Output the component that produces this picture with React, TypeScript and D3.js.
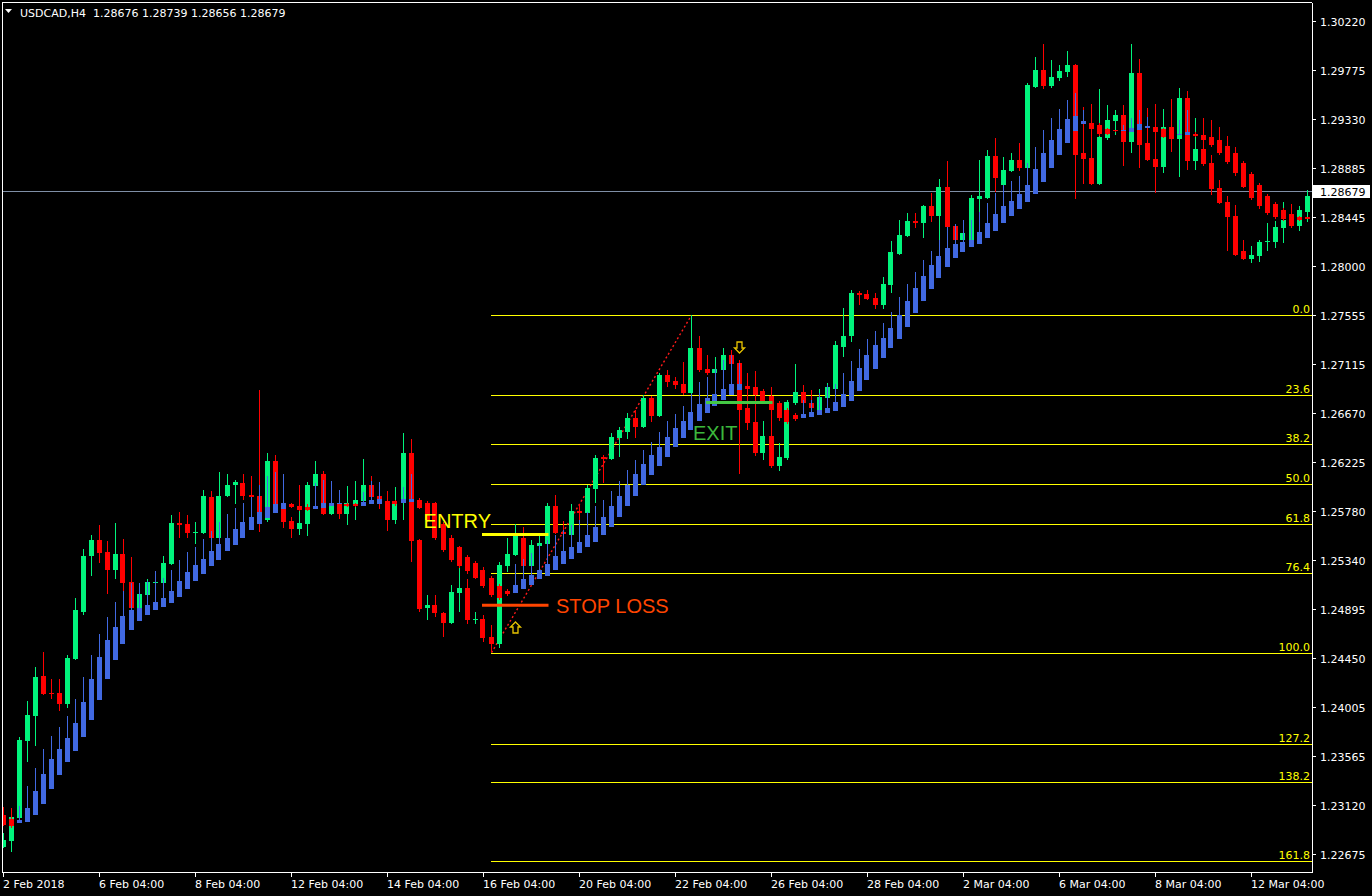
import React from 'react';
import * as d3 from 'd3';

// ---------- DATA ----------
const headerText = 'USDCAD,H4  1.28676 1.28739 1.28656 1.28679';
const currentPrice = 1.28679;

const open = [1.2274,1.2279,1.2300,1.2370,1.2392,1.2429,1.2413,1.2413,1.2403,1.2444,
 1.2487,1.2537,1.2552,1.2541,1.2525,1.2539,1.2514,1.2490,1.2502,1.2513,
 1.2513,1.2530,1.2567,1.2566,1.2558,1.2558,1.2591,1.2554,1.2592,1.2602,
 1.2603,1.2593,1.2592,1.2570,1.2623,1.2585,1.2569,1.2562,1.2566,1.2601,
 1.2612,1.2575,1.2584,1.2575,1.2583,1.2587,1.2602,1.2592,1.2585,1.2570,
 1.2588,1.2631,1.2552,1.2490,1.2493,1.2486,1.2477,1.2504,1.2508,1.2479,
 1.2480,1.2464,1.2458,1.2528,1.2538,1.2554,1.2528,1.2546,1.2548,1.2583,
 1.2559,1.2556,1.2578,1.2576,1.2598,1.2627,1.2625,1.2644,1.2650,1.2662,
 1.2654,1.2680,1.2664,1.2701,1.2696,1.2693,1.2685,1.2726,1.2707,1.2703,
 1.2706,1.2719,1.2712,1.2671,1.2659,1.2631,1.2646,1.2619,1.2626,1.2676,
 1.2686,1.2676,1.2670,1.2680,1.2689,1.2727,1.2737,1.2776,1.2775,1.2771,
 1.2765,1.2783,1.2811,1.2827,1.2841,1.2839,1.2854,1.2845,1.2872,1.2836,
 1.2824,1.2824,1.2861,1.2862,1.2900,1.2873,1.2886,1.2896,1.2889,1.2962,
 1.2978,1.2963,1.2970,1.2976,1.2982,1.2902,1.2898,1.2874,1.2916,1.2931,
 1.2937,1.2912,1.2975,1.2911,1.2897,1.2890,1.2926,1.2915,1.2952,1.2895,
 1.2906,1.2893,1.2871,1.2858,1.2845,1.2814,1.2806,1.2809,1.2822,1.2822,
 1.2834,1.2844,1.2836,1.2849];

const high = [1.2286,1.2305,1.2373,1.2406,1.2437,1.2450,1.2426,1.2426,1.2448,1.2499,
 1.2544,1.2556,1.2565,1.2551,1.2567,1.2553,1.2536,1.2507,1.2516,1.2524,
 1.2537,1.2574,1.2577,1.2574,1.2568,1.2597,1.2596,1.2613,1.2612,1.2606,
 1.2612,1.2610,1.2688,1.2631,1.2629,1.2588,1.2573,1.2579,1.2604,1.2623,
 1.2614,1.2587,1.2596,1.2601,1.2605,1.2625,1.2610,1.2593,1.2596,1.2600,
 1.2649,1.2643,1.2553,1.2502,1.2502,1.2487,1.2511,1.2527,1.2516,1.2487,
 1.2484,1.2475,1.2532,1.2554,1.2566,1.2564,1.2552,1.2555,1.2585,1.2593,
 1.2569,1.2584,1.2584,1.2602,1.2629,1.2629,1.2649,1.2654,1.2667,1.2670,
 1.2683,1.2682,1.2703,1.2706,1.2699,1.2713,1.2756,1.2737,1.2719,1.2718,
 1.2726,1.2724,1.2715,1.2703,1.2705,1.2660,1.2690,1.2640,1.2679,1.2711,
 1.2692,1.2688,1.2689,1.2694,1.2732,1.2762,1.2778,1.2777,1.2778,1.2776,
 1.2790,1.2823,1.2842,1.2848,1.2848,1.2855,1.2866,1.2879,1.2895,1.2838,
 1.2841,1.2864,1.2896,1.2905,1.2916,1.2899,1.2902,1.2911,1.2966,1.2989,
 1.3001,1.2987,1.2982,1.2995,1.2983,1.2944,1.2947,1.2960,1.2946,1.2941,
 1.2946,1.3001,1.2988,1.2943,1.2947,1.2942,1.2951,1.2961,1.2959,1.2934,
 1.2934,1.2901,1.2878,1.2863,1.2855,1.2824,1.2818,1.2824,1.2839,1.2841,
 1.2858,1.2856,1.2854,1.2869];

const low = [1.2273,1.2269,1.2298,1.2351,1.2365,1.2411,1.2408,1.2397,1.2400,1.2443,
 1.2484,1.2519,1.2531,1.2503,1.2516,1.2505,1.2489,1.2489,1.2501,1.2507,
 1.2512,1.2529,1.2554,1.2554,1.2548,1.2557,1.2553,1.2553,1.2591,1.2584,
 1.2588,1.2590,1.2559,1.2568,1.2583,1.2563,1.2554,1.2556,1.2555,1.2600,
 1.2574,1.2574,1.2571,1.2565,1.2570,1.2586,1.2590,1.2580,1.2560,1.2566,
 1.2570,1.2532,1.2487,1.2479,1.2482,1.2464,1.2476,1.2487,1.2476,1.2476,
 1.2459,1.2450,1.2454,1.2523,1.2537,1.2527,1.2527,1.2545,1.2547,1.2557,
 1.2556,1.2555,1.2568,1.2575,1.2585,1.2603,1.2624,1.2627,1.2643,1.2644,
 1.2653,1.2659,1.2663,1.2690,1.2689,1.2683,1.2684,1.2704,1.2701,1.2701,
 1.2705,1.2709,1.2612,1.2651,1.2628,1.2624,1.2617,1.2614,1.2624,1.2674,
 1.2665,1.2668,1.2669,1.2679,1.2688,1.2718,1.2731,1.2765,1.2769,1.2761,
 1.2761,1.2776,1.2810,1.2826,1.2834,1.2825,1.2840,1.2824,1.2834,1.2823,
 1.2822,1.2823,1.2846,1.2861,1.2867,1.2872,1.2885,1.2886,1.2888,1.2961,
 1.2960,1.2961,1.2968,1.2971,1.2861,1.2874,1.2873,1.2873,1.2914,1.2919,
 1.2891,1.2902,1.2889,1.2895,1.2866,1.2884,1.2903,1.2881,1.2887,1.2887,
 1.2891,1.2864,1.2856,1.2814,1.2809,1.2805,1.2803,1.2804,1.2814,1.2816,
 1.2821,1.2834,1.2832,1.2840];

const close = [1.2280,1.2301,1.2371,1.2393,1.2428,1.2412,1.2412,1.2403,1.2445,1.2488,
 1.2537,1.2552,1.2540,1.2525,1.2539,1.2513,1.2490,1.2503,1.2514,1.2514,
 1.2531,1.2567,1.2565,1.2558,1.2559,1.2592,1.2554,1.2592,1.2602,1.2604,
 1.2592,1.2591,1.2567,1.2623,1.2584,1.2568,1.2562,1.2567,1.2602,1.2612,
 1.2575,1.2585,1.2575,1.2585,1.2588,1.2602,1.2591,1.2584,1.2570,1.2584,
 1.2631,1.2551,1.2489,1.2493,1.2486,1.2477,1.2505,1.2508,1.2479,1.2480,
 1.2463,1.2458,1.2529,1.2539,1.2555,1.2528,1.2547,1.2549,1.2583,1.2558,
 1.2557,1.2578,1.2576,1.2599,1.2626,1.2625,1.2645,1.2651,1.2662,1.2654,
 1.2680,1.2664,1.2701,1.2695,1.2692,1.2685,1.2726,1.2706,1.2703,1.2707,
 1.2719,1.2711,1.2670,1.2658,1.2631,1.2646,1.2619,1.2627,1.2677,1.2686,
 1.2676,1.2671,1.2681,1.2690,1.2728,1.2737,1.2776,1.2774,1.2770,1.2765,
 1.2784,1.2813,1.2828,1.2841,1.2839,1.2854,1.2845,1.2872,1.2835,1.2824,
 1.2830,1.2862,1.2863,1.2900,1.2880,1.2887,1.2896,1.2889,1.2964,1.2978,
 1.2963,1.2971,1.2977,1.2982,1.2901,1.2897,1.2874,1.2917,1.2932,1.2937,
 1.2912,1.2975,1.2910,1.2896,1.2890,1.2926,1.2915,1.2952,1.2895,1.2906,
 1.2892,1.2870,1.2857,1.2844,1.2810,1.2806,1.2810,1.2822,1.2823,1.2835,
 1.2842,1.2836,1.2851,1.2863];

// smoothed Heiken Ashi overlay
const haOpen = [1.2303,1.2299,1.2295,1.2296,1.2303,1.2313,1.2326,1.2339,1.2351,1.2361,
 1.2373,1.2389,1.2407,1.2426,1.2443,1.2458,1.2470,1.2478,1.2484,1.2488,
 1.2491,1.2495,1.2500,1.2507,1.2515,1.2521,1.2528,1.2534,1.2542,1.2547,
 1.2554,1.2561,1.2566,1.2572,1.2576,1.2580,1.2584,1.2583,1.2582,1.2580,
 1.2581,1.2583,1.2584,1.2584,1.2584,1.2583,1.2584,1.2584,1.2587,1.2587,
 1.2585,1.2586,1.2588,1.2585,1.2585,1.2566,1.2554,1.2545,1.2536,1.2531,
 1.2525,1.2517,1.2510,1.2506,1.2504,1.2507,1.2511,1.2516,1.2519,1.2525,
 1.2530,1.2535,1.2540,1.2545,1.2550,1.2556,1.2564,1.2573,1.2583,1.2592,
 1.2602,1.2611,1.2619,1.2627,1.2636,1.2644,1.2651,1.2660,1.2667,1.2673,
 1.2679,1.2683,1.2688,1.2691,1.2690,1.2687,1.2682,1.2676,1.2670,1.2665,
 1.2662,1.2663,1.2665,1.2667,1.2669,1.2672,1.2678,1.2687,1.2697,1.2707,
 1.2717,1.2726,1.2734,1.2745,1.2757,1.2768,1.2779,1.2789,1.2799,1.2807,
 1.2813,1.2817,1.2820,1.2825,1.2832,1.2839,1.2845,1.2852,1.2858,1.2865,
 1.2876,1.2889,1.2901,1.2911,1.2922,1.2929,1.2930,1.2928,1.2924,1.2923,
 1.2922,1.2921,1.2923,1.2925,1.2926,1.2924,1.2922,1.2919,1.2919,1.2920,
 1.2919,1.2917,1.2914,1.2909,1.2902,1.2893,1.2883,1.2873,1.2863,1.2856,
 1.2851,1.2847,1.2844,1.2844];

const haClose = [1.2294,1.2293,1.2298,1.2309,1.2324,1.2340,1.2353,1.2362,1.2372,1.2386,
 1.2405,1.2426,1.2446,1.2461,1.2473,1.2483,1.2488,1.2490,1.2493,1.2496,
 1.2499,1.2506,1.2515,1.2523,1.2529,1.2535,1.2542,1.2548,1.2554,1.2562,
 1.2568,1.2573,1.2577,1.2582,1.2584,1.2585,1.2582,1.2579,1.2579,1.2583,
 1.2585,1.2585,1.2585,1.2583,1.2583,1.2586,1.2588,1.2589,1.2585,1.2584,
 1.2589,1.2589,1.2581,1.2570,1.2554,1.2543,1.2534,1.2528,1.2524,1.2517,
 1.2510,1.2502,1.2499,1.2503,1.2511,1.2516,1.2520,1.2525,1.2530,1.2537,
 1.2542,1.2545,1.2550,1.2556,1.2564,1.2573,1.2583,1.2592,1.2602,1.2612,
 1.2621,1.2629,1.2636,1.2645,1.2653,1.2660,1.2668,1.2675,1.2680,1.2684,
 1.2689,1.2693,1.2693,1.2689,1.2683,1.2677,1.2670,1.2662,1.2659,1.2661,
 1.2666,1.2668,1.2670,1.2671,1.2677,1.2684,1.2696,1.2708,1.2719,1.2728,
 1.2735,1.2744,1.2756,1.2768,1.2780,1.2791,1.2801,1.2809,1.2816,1.2820,
 1.2822,1.2824,1.2831,1.2839,1.2847,1.2854,1.2859,1.2865,1.2873,1.2888,
 1.2902,1.2914,1.2924,1.2933,1.2936,1.2931,1.2924,1.2920,1.2920,1.2922,
 1.2923,1.2925,1.2929,1.2927,1.2921,1.2917,1.2916,1.2920,1.2921,1.2918,
 1.2914,1.2910,1.2902,1.2894,1.2884,1.2872,1.2862,1.2854,1.2848,1.2844,
 1.2843,1.2842,1.2842,1.2843];

const haHigh = [1.2310,1.2309,1.2311,1.2329,1.2345,1.2362,1.2374,1.2382,1.2392,1.2408,
 1.2428,1.2448,1.2467,1.2482,1.2496,1.2506,1.2513,1.2513,1.2515,1.2524,
 1.2517,1.2525,1.2534,1.2541,1.2545,1.2553,1.2560,1.2568,1.2575,1.2581,
 1.2585,1.2591,1.2602,1.2610,1.2613,1.2612,1.2585,1.2602,1.2584,1.2603,
 1.2606,1.2605,1.2597,1.2585,1.2585,1.2595,1.2605,1.2604,1.2588,1.2588,
 1.2600,1.2612,1.2590,1.2587,1.2586,1.2568,1.2556,1.2546,1.2538,1.2533,
 1.2527,1.2519,1.2512,1.2507,1.2530,1.2535,1.2540,1.2547,1.2552,1.2556,
 1.2561,1.2565,1.2570,1.2577,1.2583,1.2588,1.2596,1.2605,1.2615,1.2624,
 1.2633,1.2641,1.2650,1.2660,1.2666,1.2673,1.2684,1.2695,1.2699,1.2707,
 1.2715,1.2719,1.2712,1.2693,1.2692,1.2689,1.2684,1.2678,1.2671,1.2667,
 1.2679,1.2679,1.2685,1.2692,1.2693,1.2703,1.2714,1.2725,1.2734,1.2741,
 1.2748,1.2758,1.2772,1.2784,1.2795,1.2805,1.2814,1.2824,1.2835,1.2838,
 1.2842,1.2842,1.2849,1.2857,1.2866,1.2873,1.2877,1.2882,1.2893,1.2908,
 1.2923,1.2934,1.2942,1.2950,1.2957,1.2941,1.2932,1.2930,1.2925,1.2923,
 1.2928,1.2934,1.2941,1.2935,1.2927,1.2925,1.2923,1.2932,1.2941,1.2921,
 1.2920,1.2932,1.2926,1.2918,1.2908,1.2895,1.2885,1.2875,1.2865,1.2858,
 1.2853,1.2848,1.2845,1.2844];

const haLow = [1.2293,1.2291,1.2295,1.2296,1.2303,1.2313,1.2326,1.2339,1.2351,1.2361,
 1.2373,1.2389,1.2407,1.2426,1.2443,1.2458,1.2470,1.2478,1.2484,1.2488,
 1.2491,1.2495,1.2500,1.2507,1.2515,1.2521,1.2528,1.2534,1.2542,1.2547,
 1.2554,1.2561,1.2566,1.2572,1.2576,1.2580,1.2581,1.2578,1.2578,1.2580,
 1.2581,1.2583,1.2584,1.2582,1.2582,1.2583,1.2584,1.2584,1.2584,1.2583,
 1.2585,1.2586,1.2580,1.2568,1.2552,1.2541,1.2532,1.2526,1.2521,1.2516,
 1.2508,1.2500,1.2497,1.2501,1.2504,1.2507,1.2511,1.2516,1.2519,1.2525,
 1.2530,1.2535,1.2540,1.2545,1.2550,1.2556,1.2564,1.2573,1.2583,1.2592,
 1.2602,1.2611,1.2619,1.2627,1.2636,1.2644,1.2651,1.2660,1.2667,1.2673,
 1.2679,1.2683,1.2688,1.2687,1.2681,1.2675,1.2668,1.2660,1.2657,1.2660,
 1.2662,1.2663,1.2665,1.2667,1.2669,1.2672,1.2678,1.2687,1.2697,1.2707,
 1.2717,1.2726,1.2734,1.2745,1.2757,1.2768,1.2779,1.2789,1.2799,1.2807,
 1.2813,1.2817,1.2820,1.2825,1.2832,1.2839,1.2845,1.2852,1.2858,1.2865,
 1.2876,1.2889,1.2901,1.2911,1.2922,1.2929,1.2922,1.2918,1.2919,1.2921,
 1.2922,1.2921,1.2923,1.2925,1.2920,1.2916,1.2915,1.2919,1.2919,1.2917,
 1.2913,1.2908,1.2901,1.2892,1.2882,1.2871,1.2860,1.2852,1.2846,1.2843,
 1.2841,1.2841,1.2841,1.2843];

const priceTicks = ['1.30220','1.29775','1.29330','1.28885','1.28445','1.28000','1.27555','1.27115','1.26670',
  '1.26225','1.25780','1.25340','1.24895','1.24450','1.24005','1.23565','1.23120','1.22675'];

const timeLabels = ['2 Feb 2018','6 Feb 04:00','8 Feb 04:00','12 Feb 04:00','14 Feb 04:00','16 Feb 04:00',
  '20 Feb 04:00','22 Feb 04:00','26 Feb 04:00','28 Feb 04:00','2 Mar 04:00','6 Mar 04:00','8 Mar 04:00','12 Mar 04:00'];
const timeLabelBars = [0,12,24,36,48,60,72,84,96,108,120,132,144,156];

const fibLowBar = 61, fibHighBar = 86;
const fibLow = 1.24497, fibHigh = 1.27555;
const fibLevels = [0.0, 23.6, 38.2, 50.0, 61.8, 76.4, 100.0, 127.2, 138.2, 161.8];

const entryLevel = { price: 1.25567, from: 60, to: 68, label: 'ENTRY' };
const stopLevel = { price: 1.24926, from: 60, to: 68, label: 'STOP LOSS' };
const exitLevel = { price: 1.26763, from: 88, to: 96, label: 'EXIT' };
const buyArrow = { bar: 64, price: 1.24775 };
const sellArrow = { bar: 92, price: 1.27212 };

// ---------- STYLE ----------
const W = 1372, H = 896;
const PL = 2, PR = 1312, PT = 2.5, PB = 872;
const BULL = '#00f47c', BEAR = '#ff0000', HA_UP = '#4169e1', HA_DN = '#ff0000';
const FIB = '#ffff00';
const AXIS_FONT = '"DejaVu Sans", Verdana, sans-serif';
const LABEL_FONT = '"Liberation Sans", Arial, sans-serif';

export default function App() {
  const n = open.length;
  const x = d3.scaleLinear().domain([0, n - 1]).range([3.5, 3.5 + 8 * (n - 1)]);
  const y = d3.scaleLinear().domain([1.2251, 1.3041]).range([PB, 0]);

  const candle = (i: number, o: number, h: number, l: number, c: number, up: string, dn: string, key: string) => {
    const cx = x(i);
    const col = c >= o ? up : dn;
    const yh = Math.round(y(h)), yl = Math.round(y(l));
    const bt = Math.round(Math.min(y(o), y(c)));
    const bb = Math.round(Math.max(y(o), y(c)));
    return (
      <g key={key}>
        <rect x={Math.floor(cx)} y={yh} width={1} height={Math.max(1, yl - yh)} fill={col} />
        <rect x={Math.floor(cx - 2.5)} y={bt} width={5} height={Math.max(1, bb - bt)} fill={col} />
      </g>
    );
  };

  const fibY = (r: number) => y(fibHigh - (r / 100) * (fibHigh - fibLow));

  const arrowUp = (cx: number, ty: number) =>
    `M${cx},${ty} L${cx + 5},${ty + 5} L${cx + 2.5},${ty + 5} L${cx + 2.5},${ty + 11} L${cx - 2.5},${ty + 11} L${cx - 2.5},${ty + 5} L${cx - 5},${ty + 5} Z`;
  const arrowDown = (cx: number, by: number) =>
    `M${cx},${by} L${cx + 5},${by - 5} L${cx + 2.5},${by - 5} L${cx + 2.5},${by - 11} L${cx - 2.5},${by - 11} L${cx - 2.5},${by - 5} L${cx - 5},${by - 5} Z`;

  const yCur = y(currentPrice);

  return (
    <svg width={W} height={H} style={{ position: 'absolute', left: 0, top: 0, display: 'block' }}
      xmlns="http://www.w3.org/2000/svg">
      <defs>
        <clipPath id="plot"><rect x={PL} y={PT} width={PR - PL} height={PB - PT} /></clipPath>
      </defs>
      <rect x={0} y={0} width={W} height={H} fill="#000" />

      {/* fibonacci levels */}
      <g clipPath="url(#plot)">
        {fibLevels.map((r) => (
          <g key={'f' + r}>
            <line x1={x(fibLowBar) - 0.5} x2={PR} y1={Math.round(fibY(r)) + 0.5} y2={Math.round(fibY(r)) + 0.5}
              stroke={FIB} strokeWidth={1} />
            <text x={PR - 2} y={Math.round(fibY(r)) - 2} fill={FIB} fontFamily={AXIS_FONT} fontSize={11}
              textAnchor="end">{r.toFixed(1)}</text>
          </g>
        ))}
        <line x1={x(fibLowBar)} y1={y(fibLow)} x2={x(fibHighBar)} y2={y(fibHigh)} stroke="#ff1a1a"
          strokeWidth={1.4} strokeDasharray="2,2.5" />
      </g>

      {/* current price line */}
      <line x1={PL} x2={PR} y1={Math.round(yCur) + 0.5} y2={Math.round(yCur) + 0.5} stroke="#7f8fa6" strokeWidth={1}
        shapeRendering="crispEdges" />

      {/* price candles + smoothed HA overlay */}
      <g clipPath="url(#plot)" shapeRendering="crispEdges">
        {open.map((_, i) => candle(i, open[i], high[i], low[i], close[i], BULL, BEAR, 'p' + i))}
        {haOpen.map((_, i) => candle(i, haOpen[i], haHigh[i], haLow[i], haClose[i], HA_UP, HA_DN, 'h' + i))}
      </g>

      {/* trade annotations */}
      <g>
        <line x1={x(entryLevel.from) - 1.5} x2={x(entryLevel.to) + 1} y1={y(entryLevel.price)} y2={y(entryLevel.price)}
          stroke="#ffff00" strokeWidth={3} />
        <text x={x(fibLowBar) - 0.5} y={y(entryLevel.price) - 7} fill="#ffff00" fontFamily={LABEL_FONT} fontSize={20}
          textAnchor="end">{entryLevel.label}</text>
        <line x1={x(stopLevel.from) - 1.5} x2={x(stopLevel.to) + 1} y1={y(stopLevel.price)} y2={y(stopLevel.price)}
          stroke="#ff4500" strokeWidth={3} />
        <text x={x(stopLevel.to) + 8.5} y={y(stopLevel.price) + 7.5} fill="#ff4500" fontFamily={LABEL_FONT}
          fontSize={20}>{stopLevel.label}</text>
        <line x1={x(exitLevel.from) - 1.5} x2={x(exitLevel.to) + 1} y1={y(exitLevel.price)} y2={y(exitLevel.price)}
          stroke="#44c844" strokeWidth={3} />
        <text x={x(exitLevel.from) - 14.5} y={y(exitLevel.price) + 37.5} fill="#3cb83c" fontFamily={LABEL_FONT}
          fontSize={20}>{exitLevel.label}</text>
        <path d={arrowUp(x(buyArrow.bar), y(buyArrow.price))} fill="none" stroke="#e8c400" strokeWidth={1.3} />
        <path d={arrowDown(x(sellArrow.bar), y(sellArrow.price))} fill="none" stroke="#e8c400" strokeWidth={1.3} />
      </g>

      {/* frame */}
      <g stroke="#ffffff" strokeWidth={1} shapeRendering="crispEdges">
        <line x1={PL + 0.5} x2={PL + 0.5} y1={PT} y2={PB} />
        <line x1={PL} x2={PR} y1={PT} y2={PT} />
        <line x1={PR + 0.5} x2={PR + 0.5} y1={PT} y2={PB + 0.5} />
        <line x1={PL} x2={PR + 1} y1={PB + 0.5} y2={PB + 0.5} />
      </g>

      {/* y axis */}
      <g fontFamily={AXIS_FONT} fontSize={11} fill="#ffffff">
        {priceTicks.map((t) => {
          const yy = Math.round(y(+t)) + 0.5;
          return (
            <g key={t}>
              <line x1={PR + 1} x2={PR + 4} y1={yy} y2={yy} stroke="#ffffff" strokeWidth={1} />
              <text x={PR + 8} y={yy + 4}>{t}</text>
            </g>
          );
        })}
        <rect x={PR + 1} y={Math.round(yCur) - 6} width={57} height={13} fill="#ffffff" />
        <text x={PR + 8} y={Math.round(yCur) + 4.5} fill="#000000">{currentPrice.toFixed(5)}</text>
      </g>

      {/* x axis */}
      <g fontFamily={AXIS_FONT} fontSize={11} fill="#ffffff">
        {timeLabels.map((t, k) => {
          const xx = Math.floor(x(timeLabelBars[k])) + 0.5;
          return (
            <g key={t}>
              <line x1={xx} x2={xx} y1={PB} y2={PB + 5} stroke="#ffffff" strokeWidth={1} />
              <text x={xx - 0.5} y={PB + 16}>{t}</text>
            </g>
          );
        })}
      </g>

      {/* header */}
      <path d="M5,9 L12,9 L8.5,13 Z" fill="#ffffff" />
      <text x={20} y={16.5} fontFamily={AXIS_FONT} fontSize={11} fill="#ffffff" style={{ whiteSpace: 'pre' }}>
        {headerText}
      </text>
    </svg>
  );
}
